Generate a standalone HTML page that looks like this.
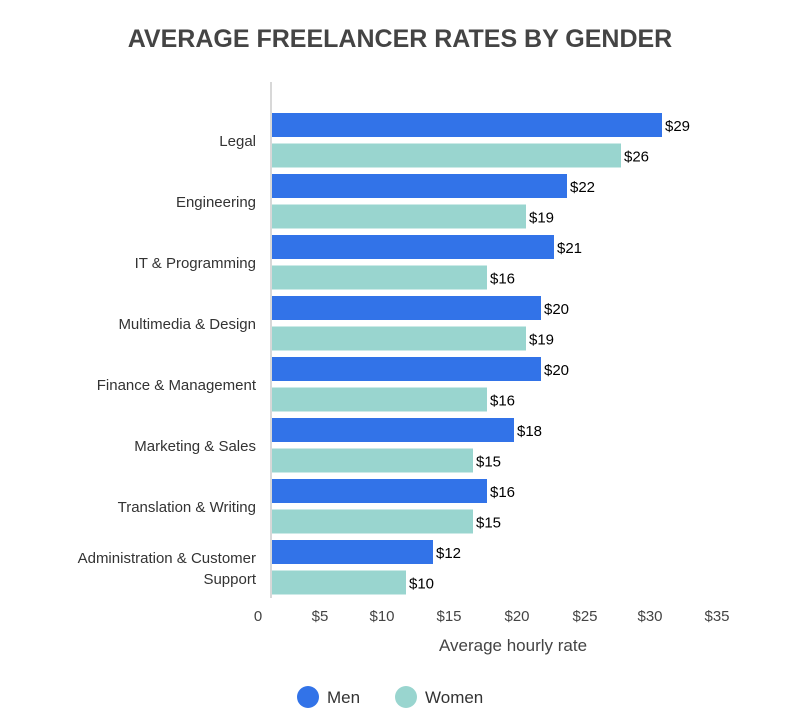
<!DOCTYPE html>
<html><head><style>
body{margin:0;background:#fff;}
svg{display:block;font-family:"Liberation Sans",Arial,sans-serif;}
</style></head><body>
<svg width="800" height="726" viewBox="0 0 800 726">
<text x="400" y="47" text-anchor="middle" font-size="25" font-weight="bold" fill="#444">AVERAGE FREELANCER RATES BY GENDER</text>
<line x1="271" y1="82" x2="271" y2="598" stroke="#ccc" stroke-width="1.5"/>
<g font-size="15" fill="#333" text-anchor="end">
<text x="256" y="146">Legal</text>
<text x="256" y="207">Engineering</text>
<text x="256" y="268">IT &amp; Programming</text>
<text x="256" y="329">Multimedia &amp; Design</text>
<text x="256" y="390">Finance &amp; Management</text>
<text x="256" y="451">Marketing &amp; Sales</text>
<text x="256" y="512">Translation &amp; Writing</text>
<text x="256" y="563">Administration &amp; Customer</text>
<text x="256" y="584">Support</text>
</g>
<g id="bars" font-size="15" fill="#111"></g>
<g font-size="15" fill="#444" text-anchor="middle">
<text x="258" y="621">0</text><text x="320" y="621">$5</text><text x="382" y="621">$10</text><text x="449" y="621">$15</text><text x="517" y="621">$20</text><text x="585" y="621">$25</text><text x="650" y="621">$30</text><text x="717" y="621">$35</text>
</g>
<text x="513" y="651" text-anchor="middle" font-size="17" fill="#444">Average hourly rate</text>
<circle cx="308" cy="697" r="11" fill="#3273e8"/>
<text x="327" y="703" font-size="17" fill="#333">Men</text>
<circle cx="406" cy="697" r="11" fill="#99d5cf"/>
<text x="425" y="703" font-size="17" fill="#333">Women</text>
<g>
<rect x="272" y="113" width="390" height="24" fill="#3273e8"/><text x="665" y="131" font-size="15">$29</text>
<rect x="272" y="143.5" width="349" height="24" fill="#99d5cf"/><text x="624" y="161.5" font-size="15">$26</text>
<rect x="272" y="174" width="295" height="24" fill="#3273e8"/><text x="570" y="192" font-size="15">$22</text>
<rect x="272" y="204.5" width="254" height="24" fill="#99d5cf"/><text x="529" y="222.5" font-size="15">$19</text>
<rect x="272" y="235" width="282" height="24" fill="#3273e8"/><text x="557" y="253" font-size="15">$21</text>
<rect x="272" y="265.5" width="215" height="24" fill="#99d5cf"/><text x="490" y="283.5" font-size="15">$16</text>
<rect x="272" y="296" width="269" height="24" fill="#3273e8"/><text x="544" y="314" font-size="15">$20</text>
<rect x="272" y="326.5" width="254" height="24" fill="#99d5cf"/><text x="529" y="344.5" font-size="15">$19</text>
<rect x="272" y="357" width="269" height="24" fill="#3273e8"/><text x="544" y="375" font-size="15">$20</text>
<rect x="272" y="387.5" width="215" height="24" fill="#99d5cf"/><text x="490" y="405.5" font-size="15">$16</text>
<rect x="272" y="418" width="242" height="24" fill="#3273e8"/><text x="517" y="436" font-size="15">$18</text>
<rect x="272" y="448.5" width="201" height="24" fill="#99d5cf"/><text x="476" y="466.5" font-size="15">$15</text>
<rect x="272" y="479" width="215" height="24" fill="#3273e8"/><text x="490" y="497" font-size="15">$16</text>
<rect x="272" y="509.5" width="201" height="24" fill="#99d5cf"/><text x="476" y="527.5" font-size="15">$15</text>
<rect x="272" y="540" width="161" height="24" fill="#3273e8"/><text x="436" y="558" font-size="15">$12</text>
<rect x="272" y="570.5" width="134" height="24" fill="#99d5cf"/><text x="409" y="588.5" font-size="15">$10</text>
</g>
</svg>
</body></html>
